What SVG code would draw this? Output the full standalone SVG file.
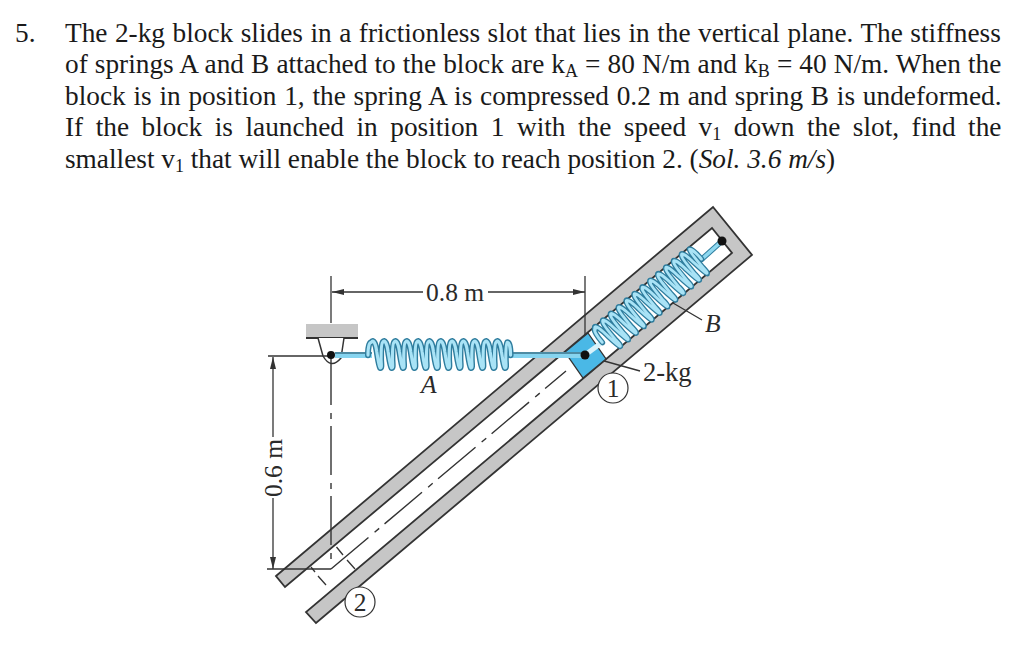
<svg xmlns="http://www.w3.org/2000/svg" width="1024" height="654" viewBox="0 0 1024 654">
<style>
.t{font-family:"Liberation Serif","Times New Roman",serif;font-size:27.300px;fill:#1a1a1a}
.s{font-size:18px}
.l{font-family:"Liberation Serif","Times New Roman",serif;font-size:25.500px;fill:#2a2a2a}
.i{font-style:italic}
.d{stroke:#333;stroke-width:1.300;fill:none}
.c{stroke:#333;stroke-width:1.400;fill:none;stroke-dasharray:49 8 6 7}
.cd{fill:none;stroke:#2f7d9e;stroke-width:5.500;stroke-linecap:round;stroke-linejoin:round}
.cl{fill:none;stroke:#a9e3f6;stroke-width:2.900;stroke-linecap:round;stroke-linejoin:round}
</style>
<defs>
<marker id="ah" viewBox="0 0 12 6" refX="12" refY="3" markerWidth="12" markerHeight="6" orient="auto" markerUnits="userSpaceOnUse"><path d="M0 0L12 3L0 6z" fill="#333"/></marker>
<path id="coil" d="M0 0C0 -7 1 -11 3 -11c2 -3 4 1 5 8c1 6 2 13 3 14c2 1 1 -4 1 -7c0 -5 0 -14 1.400 -15c2 -3 4 1 5 8c1 6 2 13 3 14c2 1 1 -4 1 -7c0 -5 0 -14 1.400 -15c2 -3 4 1 5 8c1 6 2 13 3 14c2 1 1 -4 1 -7c0 -5 0 -14 1.400 -15c2 -3 4 1 5 8c1 6 2 13 3 14c2 1 1 -4 1 -7c0 -5 0 -14 1.400 -15c2 -3 4 1 5 8c1 6 2 13 3 14c2 1 1 -4 1 -7c0 -5 0 -14 1.400 -15c2 -3 4 1 5 8c1 6 2 13 3 14c2 1 1 -4 1 -7c0 -5 0 -14 1.400 -15c2 -3 4 1 5 8c1 6 2 13 3 14c2 1 1 -4 1 -7c0 -5 0 -14 1.400 -15c2 -3 4 1 5 8c1 6 2 13 3 14c2 1 1 -4 1 -7c0 -5 0 -14 1.400 -15c2 -3 4 1 5 8c1 6 2 13 3 14c2 1 1 -4 1 -7c0 -5 0 -14 1.400 -15c2 -3 4 1 5 8c1 6 2 13 3 14c2 1 1 -4 1 -7c0 -5 0 -14 1.400 -15c2 -3 4 1 5 8c1 6 2 13 3 14c2 1 1 -4 1 -7c0 -5 0 -14 1.400 -15c2 -3 4 1 5 8c1 6 2 13 3 14c2 1 1 -4 1 -7c0 -5 0 -14 1.400 -15c2 0 3 6 3 11"/>
</defs>
<rect width="1024" height="654" fill="#fff"/>
<g id="problem-text" class="t">
<text x="15" y="42">5.</text>
<text x="65" y="42" word-spacing="0.700">The 2-kg block slides in a frictionless slot that lies in the vertical plane. The stiffness</text>
<text x="65" y="73" word-spacing="0.270">of springs A and B attached to the block are k<tspan class="s" dy="4">A</tspan><tspan dy="-4"> = 80 N/m and k</tspan><tspan class="s" dy="4">B</tspan><tspan dy="-4"> = 40 N/m. When the</tspan></text>
<text x="65" y="105" word-spacing="0.960">block is in position 1, the spring A is compressed 0.2 m and spring B is undeformed.</text>
<text x="65" y="136" word-spacing="5.700">If the block is launched in position 1 with the speed v<tspan class="s" dy="4">1</tspan><tspan dy="-4"> down the slot, find the</tspan></text>
<text x="65" y="168">smallest v<tspan class="s" dy="4">1</tspan><tspan dy="-4"> that will enable the block to reach position 2. (</tspan><tspan class="i">Sol. 3.6 m/s</tspan>)</text>
</g>
<g id="slot">
<path d="M276 576L713 207L752 255L316 623L306 612L732 253L712 228L285 587Z" fill="#c6c6c6" stroke="#333" stroke-width="1.800"/>
</g>
<g id="support">
<rect x="306" y="324" width="52" height="14" fill="#c6c6c6"/>
<path class="d" d="M306 338H358" style="stroke-width:1.800"/>
<path d="M318 338L323 356Q331 370 341 358L344 338" fill="#fff" stroke="#333" stroke-width="1.500"/>
</g>
<g id="connectors">
<path class="d" d="M331 276V323"/>
<path class="d" d="M423 292H332" marker-end="url(#ah)"/>
<path class="d" d="M488 292H585" marker-end="url(#ah)"/>
<path class="d" d="M585 276V354"/>
<path class="d" d="M268 356H331"/>
<path class="d" d="M267 569H331"/>
<path class="d" d="M273 437V357" marker-end="url(#ah)"/>
<path class="d" d="M273 498V569" marker-end="url(#ah)"/>
<path class="c" d="M331 356V566"/>
<path class="c" d="M331 569L566 371"/>
<path class="d" d="M336.500 547L343 555M347 560L355 569M311 567L315 572M318 576L326 585"/>
<path class="d" d="M673 303L702 320M597 359L640 371"/>
</g>
<g id="block">
<path d="M588 333L606 359L583 378L565 352Z" fill="#4ab8e6" stroke="#333" stroke-width="1.300"/>
<path d="M585 355L604 341" stroke="#d8f2fb" stroke-width="5"/>
</g>
<g id="spring-a">
<path d="M335 355H372M505 355H585" stroke="#4d8ba3" stroke-width="6" fill="none"/>
<path d="M335 356H372M505 356H585" stroke="#86d4ef" stroke-width="4" fill="none"/>
<use href="#coil" class="cd" transform="translate(368 355) scale(1.090 1.150)"/>
<use href="#coil" class="cl" transform="translate(368 355) scale(1.090 1.150)"/>
<circle cx="331" cy="355" r="4" fill="#111"/>
<circle cx="585" cy="355" r="4.500" fill="#111"/>
</g>
<g id="spring-b">
<path d="M702 259L722 241" stroke="#2f7d9e" stroke-width="5.500"/>
<path d="M702 259L722 241" stroke="#8ed8f0" stroke-width="3.500"/>
<use href="#coil" class="cd" transform="translate(602 342) rotate(-40) scale(.990 1.300)"/>
<use href="#coil" class="cl" transform="translate(602 342) rotate(-40) scale(.990 1.300)"/>
<circle cx="722" cy="241" r="4.500" fill="#111"/>
</g>
<g id="labels">
<text class="l" x="426" y="301">0.8 m</text>
<text class="l i" x="421" y="393">A</text>
<text class="l i" x="705" y="332">B</text>
<text class="l" x="643" y="381" style="font-size:26.500px">2-kg</text>
<text class="l" transform="translate(282 497) rotate(-90)">0.6 m</text>
</g>
<g id="pos1"><circle cx="613" cy="388" r="15" fill="#fff" stroke="#333" stroke-width="1.200"/><text class="l" x="613" y="397" text-anchor="middle">1</text></g>
<g id="pos2"><circle cx="360" cy="602" r="15" fill="#fff" stroke="#333" stroke-width="1.200"/><text class="l" x="360" y="611" text-anchor="middle">2</text></g>
</svg>
